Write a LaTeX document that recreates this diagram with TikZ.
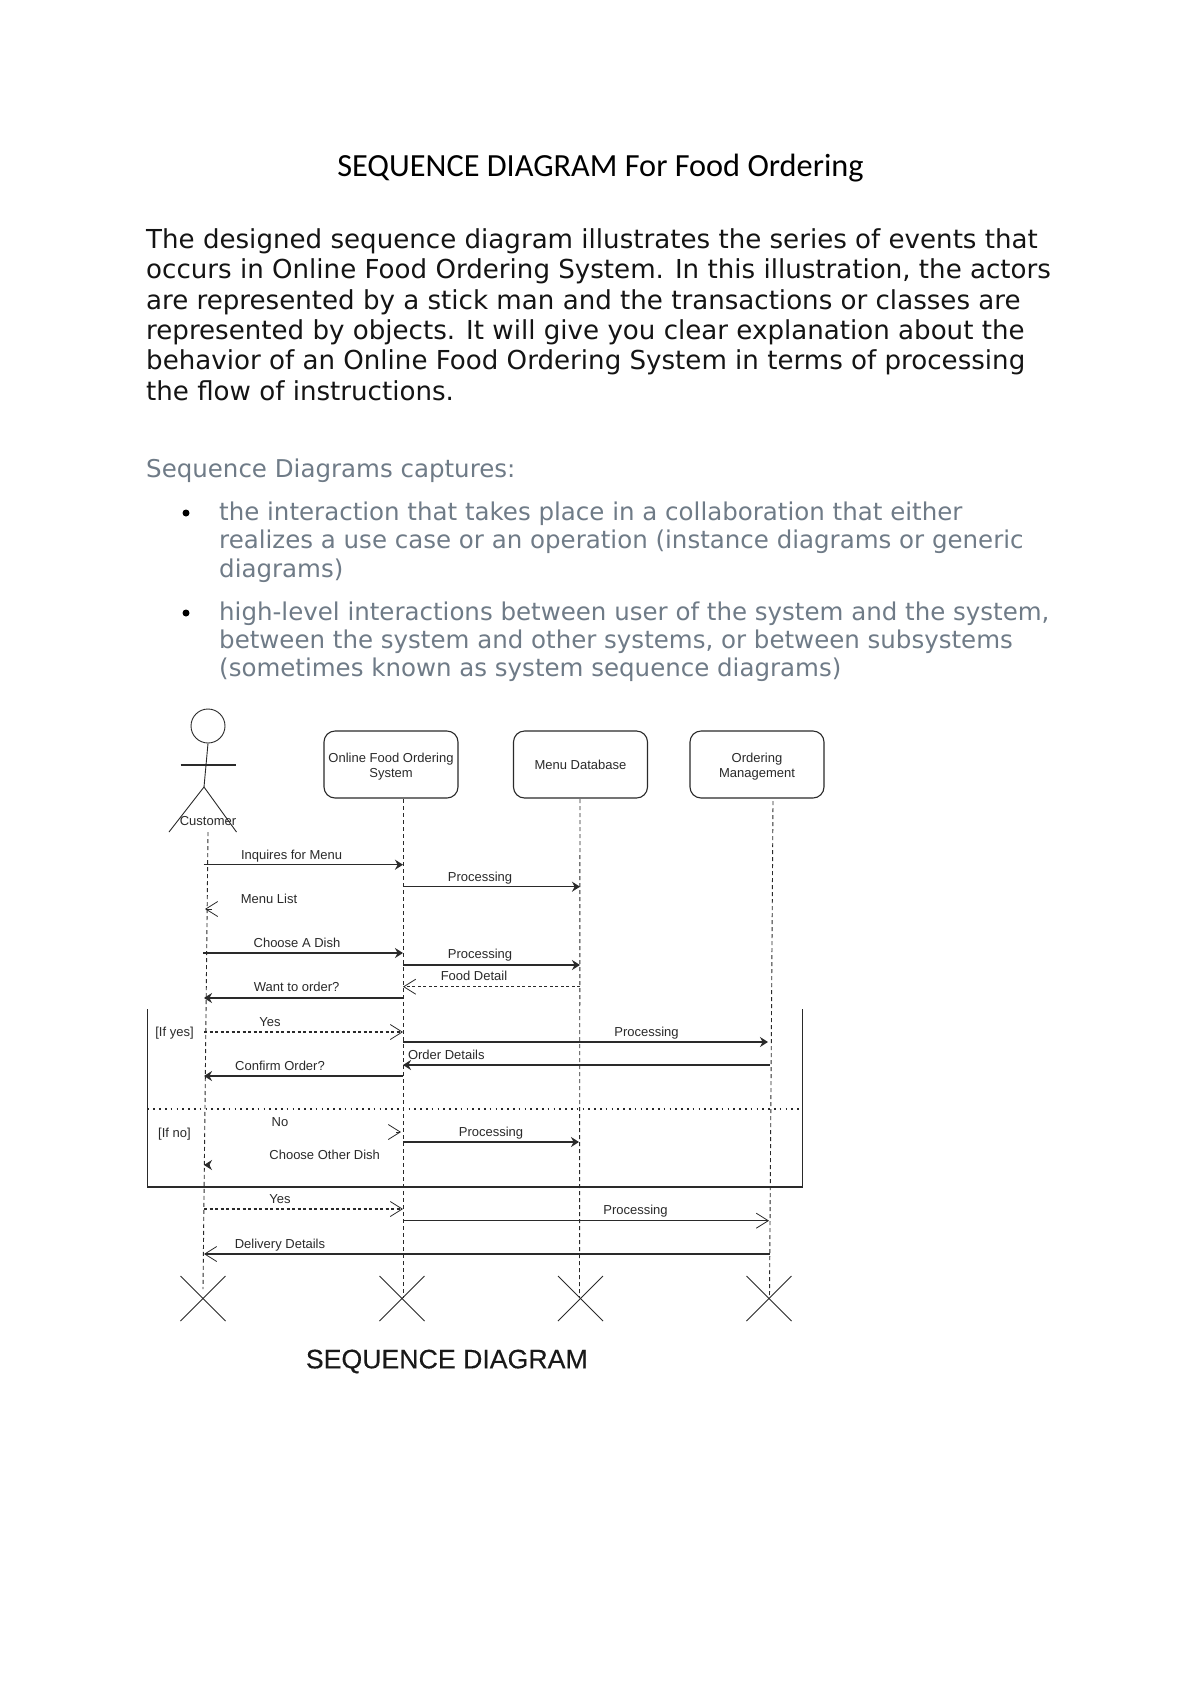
\documentclass[tikz,border=0pt]{standalone}
\usepackage{fontspec}
\setmainfont{Liberation Sans}
\newfontfamily\bodyfont{DejaVu Sans}
\newfontfamily\titlefont{Carlito}
\usetikzlibrary{arrows.meta,calc}
\definecolor{greytext}{HTML}{6F7B87}
\definecolor{ink}{HTML}{2A2A2A}
\tikzset{
  x=1pt,y=-1pt,
  pagetext/.style={inner sep=0pt,anchor=base west,font=\bodyfont\fontsize{26.1}{28}\selectfont,text=black!92},
  greyline/.style={pagetext,font=\bodyfont\fontsize{24.5}{28}\selectfont,text=greytext},
  obj/.style={draw=ink,line width=1.1pt,rounded corners=11pt,minimum width=134pt,minimum height=67pt,align=center,inner sep=0pt,font=\fontsize{13}{15}\selectfont,text=ink},
  lab/.style={inner sep=0pt,yshift=-1pt,font=\fontsize{13}{15}\selectfont,text=ink},
  life/.style={draw=ink,line width=.9pt,dash pattern=on 4pt off 3pt},
  stick/.style={draw=ink,line width=.9pt},
  solidhead/.style={draw=ink,line width=1.3pt,-{Stealth[length=8pt,width=10pt]}},
  openhead/.style={draw=ink,line width=1.3pt,-{Straight Barb[length=12pt,width=15pt,line width=.8pt]}},
  dashhead/.style={draw=ink,line width=1.1pt,dash pattern=on 3pt off 2.5pt,-{Straight Barb[length=12pt,width=15pt,line width=.8pt]}},
  frameline/.style={draw=ink,line width=1.4pt},
}
\newcommand{\msg}[7]{% name, x from, x to, y, style, label x, label y + text
  \coordinate (#1a) at (#2,#4);
  \coordinate (#1b) at (#3,#4);
  \draw[#5] (#1a) -- (#1b);
  \node[lab] (#1t) at (#6) {#7};
}
\newcommand{\cross}[2]{%
  \coordinate (#1tl) at (#2-22.5,1276);
  \coordinate (#1br) at (#2+22.5,1321);
  \coordinate (#1tr) at (#2+22.5,1276);
  \coordinate (#1bl) at (#2-22.5,1321);
  \draw[stick] (#1tl) -- (#1br);
  \draw[stick] (#1tr) -- (#1bl);
}
\begin{document}
\begin{tikzpicture}
\useasboundingbox (0,0) rectangle (1200,1698);
\fill[white] (0,0) rectangle (1200,1698);

% page text
\node[inner sep=0pt,anchor=base,font=\titlefont\fontsize{32.3}{36}\selectfont] (title) at (600.5,176.5) {SEQUENCE DIAGRAM For Food Ordering};
\node[pagetext] (p1) at (146,248.3) {The designed sequence diagram illustrates the series of events that};
\node[pagetext] (p2) at (146,278.7) {occurs in Online Food Ordering System. In this illustration, the actors};
\node[pagetext] (p3) at (146,309.1) {are represented by a stick man and the transactions or classes are};
\node[pagetext] (p4) at (146,339.5) {represented by objects. It will give you clear explanation about the};
\node[pagetext] (p5) at (146,369.9) {behavior of an Online Food Ordering System in terms of processing};
\node[pagetext] (p6) at (146,400.3) {the flow of instructions.};
\node[greyline] (g0) at (146,477) {Sequence Diagrams captures:};
\node[circle,fill=black,inner sep=0pt,minimum size=7pt] (b1) at (186,513) {};
\node[greyline] (g1) at (219,520) {the interaction that takes place in a collaboration that either};
\node[greyline] (g2) at (219,548.6) {realizes a use case or an operation (instance diagrams or generic};
\node[greyline] (g3) at (219,577) {diagrams)};
\node[circle,fill=black,inner sep=0pt,minimum size=7pt] (b2) at (186,613) {};
\node[greyline] (g4) at (219,620) {high-level interactions between user of the system and the system,};
\node[greyline] (g5) at (219,648.6) {between the system and other systems, or between subsystems};
\node[greyline] (g6) at (219,676) {(sometimes known as system sequence diagrams)};

% actor
\node[circle,draw=ink,line width=.9pt,minimum size=34pt,inner sep=0pt] (head) at (208,726) {};
\coordinate (hip) at (204,787);
\coordinate (armL) at (180.5,765);
\coordinate (armR) at (235.6,765);
\coordinate (legL) at (169,832);
\coordinate (legR) at (236.5,832);
\draw[stick] (head.south) -- (hip);
\draw[stick,line width=1.2pt] (armL) -- (armR);
\draw[stick] (legL) -- (hip) -- (legR);
\node[lab,yshift=1pt] (customer) at (208,820.7) {Customer};

% objects
\node[obj] (sys) at (391,764.5) {\rule{0pt}{14pt}Online Food Ordering\\[0pt]System};
\node[obj] (db) at (580.5,764.5) {Menu Database};
\node[obj] (ord) at (757,764.5) {\rule{0pt}{14pt}Ordering\\[0pt]Management};

% lifelines
\coordinate (cTop) at (208,832);
\coordinate (cEnd) at (203,1289);
\coordinate (sTop) at (403,799);
\coordinate (sEnd) at (403,1298);
\coordinate (dTop) at (580,799);
\coordinate (dEnd) at (579.5,1298);
\coordinate (oTop) at (773,801);
\coordinate (oEnd) at (769.5,1298);
\draw[life] (cTop) -- (cEnd);
\draw[life] (sTop) -- (sEnd);
\draw[life] (dTop) -- (dEnd);
\draw[life] (oTop) -- (oEnd);

% frame
\coordinate (fTL) at (147.5,1009);
\coordinate (fBL) at (147.5,1187);
\coordinate (fBR) at (802.6,1187);
\coordinate (fTR) at (802.6,1009);
\draw[frameline] (fTL) -- (fBL) -- (fBR) -- (fTR);
\coordinate (sepL) at (147.5,1109);
\coordinate (sepR) at (802.6,1109);
\draw[draw=ink,line width=1.4pt,dash pattern=on 1.6pt off 4.2pt] (sepL) -- (sepR);
\node[lab] (ifyes) at (174.5,1032) {[If yes]};
\node[lab] (ifno) at (174.5,1132.7) {[If no]};

% messages
\msg{m1}{203.5}{403}{864.7}{solidhead}{291.6,855}{Inquires for Menu}
\msg{m2}{403}{580}{886.7}{solidhead}{480,876.7}{Processing}
\node[lab] (mlist) at (269,898) {Menu List};
\coordinate (mlA) at (212,909);
\coordinate (mlB) at (205,909);
\draw[draw=ink,line width=.8pt,-{Straight Barb[length=12pt,width=15pt,line width=.8pt]}] (mlA) -- (mlB);
\msg{m3}{203}{403}{953}{solidhead}{297,942}{Choose A Dish}
\msg{m4}{403}{580}{965}{solidhead}{480,954}{Processing}
\msg{m5}{580}{403}{986.7}{dashhead}{474,975}{Food Detail}
\msg{m6}{403}{204}{998}{solidhead}{296.7,986}{Want to order?}
\msg{m7}{204}{403}{1032}{dashhead}{270,1021}{Yes}
\msg{m8}{403}{768}{1042}{solidhead}{646.5,1032}{Processing}
\coordinate (m9a) at (770,1065);
\coordinate (m9b) at (403,1065);
\draw[solidhead] (m9a) -- (m9b);
\node[lab,anchor=west] (m9t) at (407.8,1054) {Order Details};
\msg{m10}{403}{204}{1076}{solidhead}{280,1065}{Confirm Order?}
\node[lab] (no) at (280,1120.7) {No};
\coordinate (noA) at (396,1132);
\coordinate (noB) at (401,1132);
\draw[draw=ink,line width=.8pt,-{Straight Barb[length=12pt,width=15pt,line width=.8pt]}] (noA) -- (noB);
\msg{m11}{403}{579}{1142}{solidhead}{491,1132}{Processing}
\node[lab] (other) at (324.7,1154) {Choose Other Dish};
\coordinate (otA) at (209,1165);
\coordinate (otB) at (204,1165);
\draw[draw=ink,line width=.8pt,-{Stealth[length=8pt,width=10pt]}] (otA) -- (otB);
\msg{m12}{204}{403}{1209}{dashhead}{280,1198}{Yes}
\msg{m13}{403}{769}{1220.7}{openhead}{635.5,1209.7}{Processing}
\msg{m14}{769.5}{204}{1254}{openhead}{280,1244}{Delivery Details}

% destruction marks
\cross{xa}{203}
\cross{xb}{402}
\cross{xc}{580.5}
\cross{xd}{769}

\node[inner sep=0pt,font=\addfontfeature{FakeBold=0.35}\fontsize{26.7}{28}\selectfont,text=black!90] (caption) at (446.8,1361.5) {SEQUENCE DIAGRAM};
\end{tikzpicture}
\end{document}
